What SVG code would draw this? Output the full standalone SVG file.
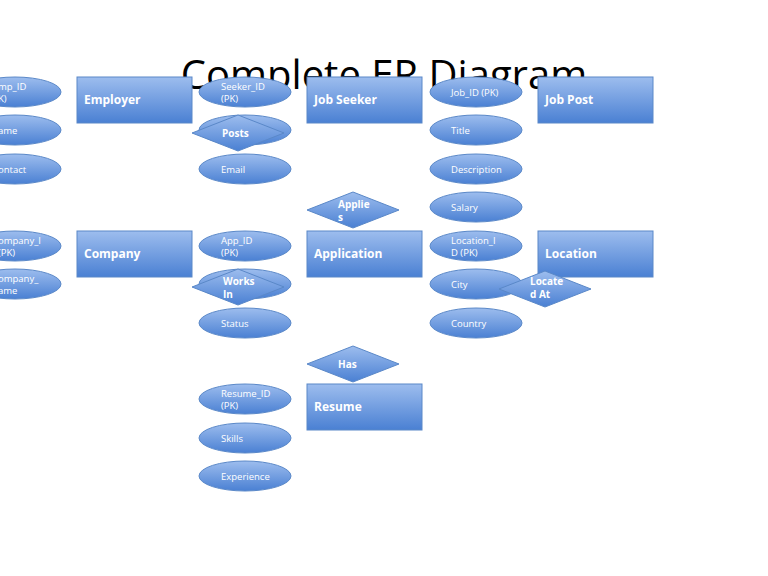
<svg xmlns="http://www.w3.org/2000/svg" width="768" height="576" viewBox="0 0 768 576">
<defs>
<linearGradient id="g" x1="0" y1="0" x2="0" y2="1"><stop offset="0" stop-color="#9dbdee"/><stop offset="1" stop-color="#4a80d3"/></linearGradient>
<style>
.s{fill:url(#g);stroke:#5a88c8;stroke-width:1}
.e{font-family:"Open Sans","Liberation Sans",sans-serif;font-size:12px;font-weight:bold;fill:#fff}
.a{font-family:"Open Sans","Liberation Sans",sans-serif;font-size:9.5px;fill:#fff}
.r{font-family:"Open Sans","Liberation Sans",sans-serif;font-size:10px;font-weight:bold;fill:#fff}
</style>
</defs>
<rect width="768" height="576" fill="#fff"/>
<text x="384" y="89" text-anchor="middle" font-family="Open Sans,Liberation Sans,sans-serif" font-size="40" fill="#000">Complete ER Diagram</text>
<g id="connectors"/>
<g id="attr-emp-id"><ellipse class="s" cx="15" cy="92" rx="46" ry="15"/><text class="a" x="-2" y="90">mp_ID</text><text class="a" x="-2" y="102">K)</text></g>
<g id="attr-emp-name"><ellipse class="s" cx="15" cy="130" rx="46" ry="15"/><text class="a" x="-2" y="134">ame</text></g>
<g id="attr-emp-contact"><ellipse class="s" cx="15" cy="169" rx="46" ry="15"/><text class="a" x="-2" y="173">ontact</text></g>
<g id="attr-co-id"><ellipse class="s" cx="15" cy="246" rx="46" ry="15"/><text class="a" x="-2" y="244">ompany_I</text><text class="a" x="-2" y="256">(PK)</text></g>
<g id="attr-co-name"><ellipse class="s" cx="15" cy="284" rx="46" ry="15"/><text class="a" x="-2" y="282">ompany_</text><text class="a" x="-2" y="294">ame</text></g>
<g id="Employer"><rect class="s" x="77" y="77" width="115" height="46"/><text class="e" x="84" y="104">Employer</text></g>
<g id="Company"><rect class="s" x="77" y="231" width="115" height="46"/><text class="e" x="84" y="258">Company</text></g>
<g id="attr-seeker-id"><ellipse class="s" cx="245" cy="92" rx="46" ry="15"/><text class="a" x="221" y="90">Seeker_ID</text><text class="a" x="221" y="102">(PK)</text></g>
<g id="attr-seeker-name"><ellipse class="s" cx="245" cy="130" rx="46" ry="15"/></g>
<g id="attr-email"><ellipse class="s" cx="245" cy="169" rx="46" ry="15"/><text class="a" x="221" y="173">Email</text></g>
<g id="rel-posts"><polygon class="s" points="192,133 238,115 284,133 238,151"/><text class="r" x="222" y="137">Posts</text></g>
<g id="attr-app-id"><ellipse class="s" cx="245" cy="246" rx="46" ry="15"/><text class="a" x="221" y="244">App_ID</text><text class="a" x="221" y="256">(PK)</text></g>
<g id="attr-app-date"><ellipse class="s" cx="245" cy="284" rx="46" ry="15"/></g>
<g id="rel-works"><polygon class="s" points="192,287 238,269 284,287 238,305"/><text class="r" x="223" y="285">Works</text><text class="r" x="223" y="298">In</text></g>
<g id="attr-status"><ellipse class="s" cx="245" cy="323" rx="46" ry="15"/><text class="a" x="221" y="327">Status</text></g>
<g id="attr-resume-id"><ellipse class="s" cx="245" cy="399" rx="46" ry="15"/><text class="a" x="221" y="397">Resume_ID</text><text class="a" x="221" y="409">(PK)</text></g>
<g id="attr-skills"><ellipse class="s" cx="245" cy="438" rx="46" ry="15"/><text class="a" x="221" y="442">Skills</text></g>
<g id="attr-exp"><ellipse class="s" cx="245" cy="476" rx="46" ry="15"/><text class="a" x="221" y="480">Experience</text></g>
<g id="JobSeeker"><rect class="s" x="307" y="77" width="115" height="46"/><text class="e" x="314" y="104">Job Seeker</text></g>
<g id="rel-applies"><polygon class="s" points="307,210 353,192 399,210 353,228"/><text class="r" x="338" y="208">Applie</text><text class="r" x="338" y="221">s</text></g>
<g id="Application"><rect class="s" x="307" y="231" width="115" height="46"/><text class="e" x="314" y="258">Application</text></g>
<g id="rel-has"><polygon class="s" points="307,364 353,346 399,364 353,382"/><text class="r" x="338" y="368">Has</text></g>
<g id="Resume"><rect class="s" x="307" y="384" width="115" height="46"/><text class="e" x="314" y="411">Resume</text></g>
<g id="attr-job-id"><ellipse class="s" cx="476" cy="92" rx="46" ry="15"/><text class="a" x="451" y="96">Job_ID (PK)</text></g>
<g id="attr-title"><ellipse class="s" cx="476" cy="130" rx="46" ry="15"/><text class="a" x="451" y="134">Title</text></g>
<g id="attr-desc"><ellipse class="s" cx="476" cy="169" rx="46" ry="15"/><text class="a" x="451" y="173">Description</text></g>
<g id="attr-salary"><ellipse class="s" cx="476" cy="207" rx="46" ry="15"/><text class="a" x="451" y="211">Salary</text></g>
<g id="attr-loc-id"><ellipse class="s" cx="476" cy="246" rx="46" ry="15"/><text class="a" x="451" y="244">Location_I</text><text class="a" x="451" y="256">D (PK)</text></g>
<g id="attr-city"><ellipse class="s" cx="476" cy="284" rx="46" ry="15"/><text class="a" x="451" y="288">City</text></g>
<g id="attr-country"><ellipse class="s" cx="476" cy="323" rx="46" ry="15"/><text class="a" x="451" y="327">Country</text></g>
<g id="JobPost"><rect class="s" x="538" y="77" width="115" height="46"/><text class="e" x="545" y="104">Job Post</text></g>
<g id="Location"><rect class="s" x="538" y="231" width="115" height="46"/><text class="e" x="545" y="258">Location</text></g>
<g id="rel-located"><polygon class="s" points="499,289 545,271 591,289 545,307"/><text class="r" x="530" y="285">Locate</text><text class="r" x="530" y="298">d At</text></g>
</svg>
